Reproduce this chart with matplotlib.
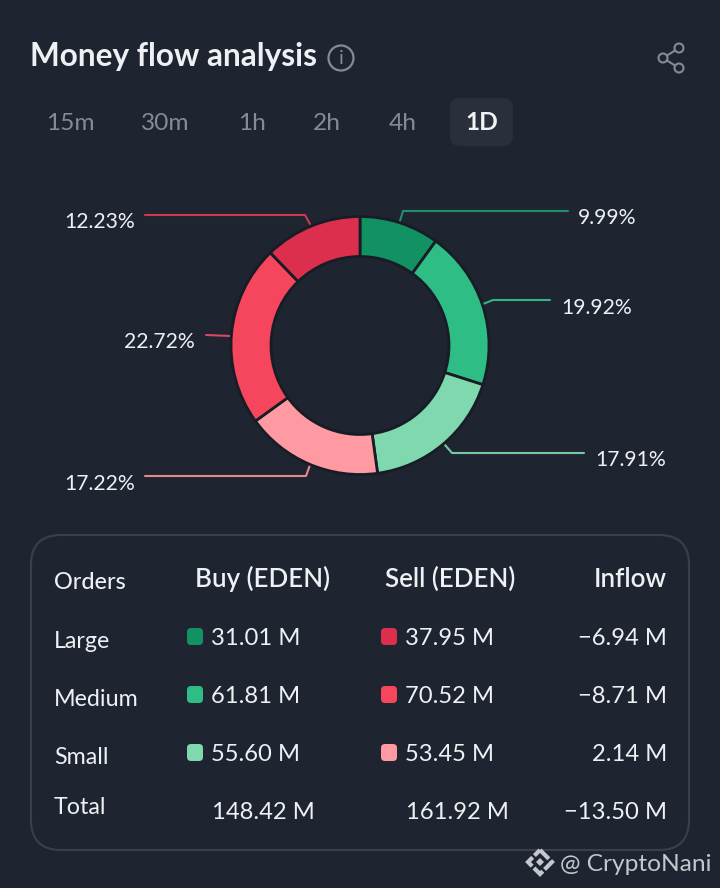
import matplotlib
matplotlib.use("Agg")
import matplotlib.pyplot as plt
from matplotlib.patches import FancyBboxPatch, Circle, Polygon

plt.rcParams['font.family'] = ['Lato', 'DejaVu Sans']

BG = '#1e2530'
W, H = 720, 888

tabs = ['15m', '30m', '1h', '2h', '4h', '1D']
pct_values = [9.99, 19.92, 17.91, 17.22, 22.72, 12.23]
pct_labels = ['9.99%', '19.92%', '17.91%', '17.22%', '22.72%', '12.23%']
pie_colors = ['#129163', '#2ebd85', '#7fd8ae', '#ff9aa2', '#f6465d', '#dc2f4d']

order_names = ['Large', 'Medium', 'Small', 'Total']
buy_vals = ['31.01 M', '61.81 M', '55.60 M', '148.42 M']
sell_vals = ['37.95 M', '70.52 M', '53.45 M', '161.92 M']
inflow_vals = ['\u22126.94 M', '\u22128.71 M', '2.14 M', '\u221213.50 M']
buy_colors = ['#129163', '#2ebd85', '#7fd8ae']
sell_colors = ['#dc2f4d', '#f6465d', '#ff9aa2']

fig = plt.figure(figsize=(W / 100, H / 100), dpi=100, facecolor=BG)
ax = fig.add_axes([0, 0, 1, 1])
ax.set_xlim(0, W)
ax.set_ylim(H, 0)
ax.axis('off')


def px(size):
    return size * 0.72


# header
ax.text(30, 66, 'Money flow analysis', color='#eef0f4', fontsize=px(31.6), fontweight='bold', va='baseline')
ax.add_patch(Circle((341, 58), 12.5, fill=False, ec='#858b96', lw=1.6))
ax.text(341, 58, 'i', color='#858b96', fontsize=px(20), ha='center', va='center')

# share icon
ax.plot([679, 663, 679], [48, 58, 68], color='#858b96', lw=1.5)
for cx, cy in [(679, 48), (663, 58), (679, 68)]:
    ax.add_patch(Circle((cx, cy), 4.5, fc=BG, ec='#858b96', lw=1.5, zorder=3))

# tabs
ax.add_patch(FancyBboxPatch((450, 98), 63, 48, boxstyle='round,pad=0,rounding_size=10', fc='#2a303b', ec='none'))
tab_x = [70, 165, 252, 327, 403, 482]
for name, x in zip(tabs, tab_x):
    c = '#f0f2f5' if name == '1D' else '#858b96'
    ax.text(x, 130, name, color=c, fontsize=px(24.5), ha='center', va='baseline',
            fontweight='bold' if name == '1D' else 'normal')

# donut
pie_ax = fig.add_axes([(360 - 129) / W, 1 - (345.5 + 129) / H, 258 / W, 258 / H])
pie_ax.pie(pct_values, colors=pie_colors, startangle=90, counterclock=False, radius=1.0,
           wedgeprops=dict(width=40 / 129, edgecolor='#181d25', linewidth=2.0))
pie_ax.set_xlim(-1, 1)
pie_ax.set_ylim(-1, 1)

# leader lines and labels
leaders = [
    ([400, 403, 568], [221, 211, 211], '#1f8f6b', 578, 224, 'left'),
    ([483, 493, 550], [304, 300, 300], '#35b387', 561, 314, 'left'),
    ([445, 452, 584], [445, 453, 453], '#74c9a4', 595, 466, 'left'),
    ([310, 306, 145], [465, 476, 476], '#e5878f', 135, 490, 'right'),
    ([231, 206], [336, 335], '#dc4760', 195, 348, 'right'),
    ([310, 305, 145], [224, 215, 215], '#c93a52', 135, 228, 'right'),
]
for (xs, ys, c, tx, ty, ha), lab in zip(leaders, pct_labels):
    ax.plot(xs, ys, color=c, lw=1.5, solid_capstyle='round')
    ax.text(tx, ty, lab, color='#eef0f4', fontsize=px(21.1), ha=ha, va='baseline')

# table card
ax.add_patch(FancyBboxPatch((31, 535), 658, 315, boxstyle='round,pad=0,rounding_size=30',
                            fc='none', ec='#3a404b', lw=1.5))
ax.text(54, 589, 'Orders', color='#eef0f4', fontsize=px(23.5), fontweight='medium', va='baseline')
ax.text(195, 587, 'Buy (EDEN)', color='#eef0f4', fontsize=px(25.9), fontweight='semibold', va='baseline')
ax.text(385, 587, 'Sell (EDEN)', color='#eef0f4', fontsize=px(25.9), fontweight='semibold', va='baseline')
ax.text(667, 587, 'Inflow', color='#eef0f4', fontsize=px(25.9), fontweight='semibold', ha='right', va='baseline')

name_base = [648, 706, 764, 814]
val_base = [645, 703, 761, 819]
for i in range(4):
    ax.text(54, name_base[i], order_names[i], color='#eef0f4', fontsize=px(23.2), va='baseline')
    bx, sx = (211, 405) if i < 3 else (212, 406)
    ax.text(bx, val_base[i], buy_vals[i], color='#eef0f4', fontsize=px(23.7), va='baseline')
    ax.text(sx, val_base[i], sell_vals[i], color='#eef0f4', fontsize=px(23.7), va='baseline')
    ax.text(667, val_base[i], inflow_vals[i], color='#eef0f4', fontsize=px(23.7), ha='right', va='baseline')
    if i < 3:
        y = val_base[i] - 17
        ax.add_patch(FancyBboxPatch((187, y), 16, 17, boxstyle='round,pad=0,rounding_size=4', fc=buy_colors[i], ec='none'))
        ax.add_patch(FancyBboxPatch((381, y), 16, 17, boxstyle='round,pad=0,rounding_size=4', fc=sell_colors[i], ec='none'))

# watermark
ax.add_patch(Polygon([(540, 850), (552, 862), (540, 874), (528, 862)], closed=True, fc='none', ec='#c4c7cc', lw=3, ls=(0, (3, 0.6))))
ax.add_patch(Polygon([(540, 858), (544, 862), (540, 866), (536, 862)], closed=True, fc='#c4c7cc', ec='none'))
ax.text(560, 871, '@ CryptoNani', color='#c4c7cc', fontsize=px(24.5), va='baseline')

fig.savefig('out.png', dpi=100, facecolor=BG)
